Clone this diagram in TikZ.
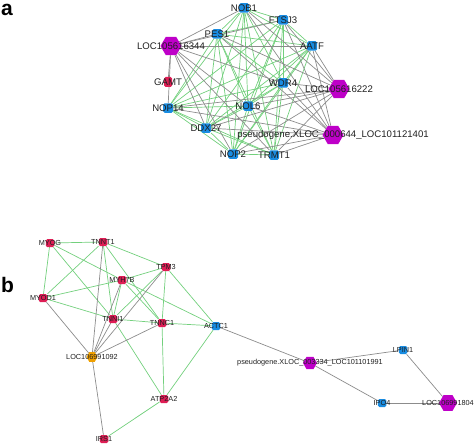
\documentclass[tikz,border=0pt]{standalone}
\usepackage{fontspec}
\setmainfont{Liberation Sans}
\usetikzlibrary{shapes.geometric,backgrounds}
\definecolor{genblue}{RGB}{25,140,225}
\definecolor{lncmag}{RGB}{190,0,200}
\definecolor{genred}{RGB}{222,30,85}
\definecolor{lncorange}{RGB}{240,160,0}
\definecolor{ppigreen}{RGB}{115,208,125}
\definecolor{coexgray}{RGB}{140,140,140}

\begin{document}
\begin{tikzpicture}[x=1pt,y=-1pt,
    every label/.style={inner sep=0pt,text=black!88,font=\fontsize{9.6}{10}\selectfont},
    gene/.style={rectangle,rounded corners=1.5pt,fill=genblue,minimum width=10pt,minimum height=9.5pt,inner sep=0pt},
    redgene/.style={gene,fill=genred,minimum width=8pt,minimum height=10pt},
    lnc/.style={regular polygon,regular polygon sides=6,fill=lncmag,minimum size=21pt,inner sep=0pt},
    ppi/.style={draw=ppigreen,line width=0.7pt},
    coex/.style={draw=coexgray,line width=0.7pt},
    panel/.style={font=\fontsize{21}{21}\selectfont\bfseries,anchor=base west,inner sep=0pt}]
  \useasboundingbox (0,0) rectangle (474,444);
  % panel labels
  \node[panel] (pa) at (1,16) {a};
  \node[panel] (pb) at (1,292) {b};

  % ---- panel a ----
  % coding genes
  \node[gene,label={center:NOB1}] (NOB1) at (244,8) {};
  \node[gene,label={center:FTSJ3}] (FTSJ3) at (283,20) {};
  \node[gene,label={center:PES1}] (PES1) at (217,34) {};
  \node[gene,label={center:AATF}] (AATF) at (312,46) {};
  \node[gene,label={center:WDR4}] (WDR4) at (283,83) {};
  \node[gene,label={center:NOP14}] (NOP14) at (168,108) {};
  \node[gene,label={center:NOL6}] (NOL6) at (248,106) {};
  \node[gene,label={center:DDX27}] (DDX27) at (206,128) {};
  \node[gene,label={center:NOP2}] (NOP2) at (233,154) {};
  \node[gene,label={center:TRMT1}] (TRMT1) at (274,155) {};
  \node[redgene,label={center:GAMT}] (GAMT) at (168,82) {};
  % lncRNAs
  \node[lnc,label={center:LOC105616344}] (LOCa1) at (171,46) {};
  \node[lnc,label={center:LOC105616222}] (LOCa2) at (339,89) {};
  \node[lnc,label={center:pseudogene.XLOC\_000644\_LOC101121401}] (PXa) at (333,135) {};

  \begin{pgfonlayer}{background}
    \foreach \s [count=\i] in {NOB1,FTSJ3,PES1,AATF,WDR4,NOP14,NOL6,DDX27,NOP2,TRMT1} {
      \foreach \t [count=\j] in {NOB1,FTSJ3,PES1,AATF,WDR4,NOP14,NOL6,DDX27,NOP2,TRMT1} {
        \ifnum\j>\i \draw[ppi] (\s) -- (\t); \fi
      }
    }
    \foreach \h in {LOCa1,LOCa2,PXa} {
      \foreach \t in {NOB1,FTSJ3,PES1,AATF,WDR4,NOP14,NOL6,DDX27,NOP2,TRMT1}
        \draw[coex] (\h) -- (\t);
    }
    \draw[coex] (LOCa1) -- (GAMT);
  \end{pgfonlayer}

  % ---- panel b ----
  \begin{scope}[every label/.append style={font=\fontsize{7.3}{8}\selectfont},
                gene/.append style={minimum width=8.5pt,minimum height=8pt},
                redgene/.style={gene,fill=genred}]
    \node[redgene,label={center:MYOG}] (MYOG) at (50,243) {};
    \node[redgene,label={center:TNNT1}] (TNNT1) at (103,242) {};
    \node[redgene,label={center:TPM3}] (TPM3) at (166,267) {};
    \node[redgene,label={center:MYH7B}] (MYH7B) at (122,280) {};
    \node[redgene,label={center:MYOD1}] (MYOD1) at (43,298) {};
    \node[redgene,label={center:TNNI1}] (TNNI1) at (113,319) {};
    \node[redgene,label={center:TNNC1}] (TNNC1) at (162,323) {};
    \node[redgene,label={center:ATP2A2}] (ATP2A2) at (164,399) {};
    \node[redgene,label={center:IRS1}] (IRS1) at (104,439) {};
    \node[gene,label={center:ACTC1}] (ACTC1) at (216,326) {};
    \node[gene,label={center:LPIN1}] (LPIN1) at (403,350) {};
    \node[gene,label={center:IPO4}] (IPO4) at (382,403) {};
    \node[lnc,fill=lncorange,minimum size=11pt,label={center:LOC106991092}] (LOCb1) at (92,357) {};
    \node[lnc,minimum size=14pt,label={center:pseudogene.XLOC\_003334\_LOC101101991}] (PXb) at (310,363) {};
    \node[lnc,minimum size=18pt,label={center:LOC106991804}] (LOCb2) at (448,403) {};

    \begin{pgfonlayer}{background}
      \foreach \s/\t in {MYOG/TNNT1,MYOG/MYOD1,MYOG/MYH7B,MYOG/TNNI1,
                         TNNT1/MYOD1,TNNT1/TPM3,TNNT1/TNNI1,TNNT1/TNNC1,
                         MYOD1/MYH7B,MYOD1/TNNI1,
                         MYH7B/TPM3,MYH7B/TNNI1,MYH7B/TNNC1,MYH7B/ACTC1,
                         TPM3/TNNI1,TPM3/TNNC1,TPM3/ACTC1,
                         TNNI1/TNNC1,TNNI1/ATP2A2,TNNC1/ACTC1,TNNC1/ATP2A2,
                         ACTC1/ATP2A2,ATP2A2/IRS1}
        \draw[ppi] (\s) -- (\t);
      \foreach \t in {MYOD1,TNNT1,MYH7B,TPM3,TNNI1,TNNC1,IRS1}
        \draw[coex] (LOCb1) -- (\t);
      \foreach \s/\t in {ACTC1/PXb,PXb/LPIN1,PXb/IPO4,LPIN1/LOCb2,IPO4/LOCb2}
        \draw[coex] (\s) -- (\t);
    \end{pgfonlayer}
  \end{scope}
\end{tikzpicture}
\end{document}
